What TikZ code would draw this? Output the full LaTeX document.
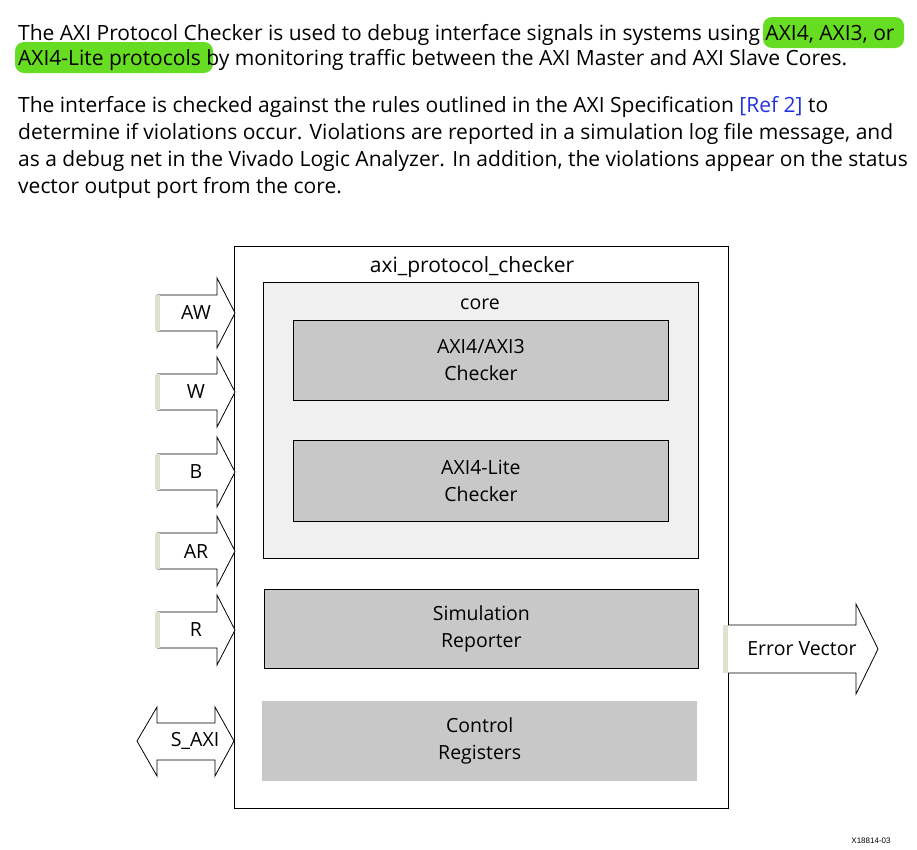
\documentclass[tikz,border=0pt]{standalone}
\usepackage{fontspec}
\setmainfont{Open Sans}
\newfontfamily\tagfont{Liberation Sans}
\definecolor{hl}{HTML}{66DD22}
\definecolor{refb}{HTML}{2233DD}
\definecolor{boxg}{HTML}{C8C8C8}
\definecolor{coreg}{HTML}{F0F0F0}
\definecolor{tabc}{HTML}{E0E0D0}
\begin{document}
\begin{tikzpicture}[x=1pt,y=-1pt,
  para/.style={anchor=base west,inner sep=0,font=\fontsize{21}{22}\selectfont},
  lbl/.style={font=\fontsize{19.5}{27}\selectfont,align=center,inner sep=0},
  blk/.style={draw=black,fill=boxg,line width=0.8pt},
  arr/.style={draw=black,fill=white,line width=0.8pt}]
\useasboundingbox (0,0) rectangle (917,849);
% highlights
\fill[hl,rounded corners=9pt] (763,17) rectangle (904,48);
\fill[hl,rounded corners=9pt] (15,42) rectangle (213,73);
\node[para] (t1) at (18,40) {The AXI Protocol Checker is used to debug interface signals in systems using AXI4, AXI3, or};
\node[para] (t2) at (18,65) {AXI4-Lite protocols by monitoring traffic between the AXI Master and AXI Slave Cores.};
\node[para] (t3) at (18,112) {The interface is checked against the rules outlined in the AXI Specification \textcolor{refb}{[Ref 2]} to};
\node[para] (t4) at (18,139) {determine if violations occur. Violations are reported in a simulation log file message, and};
\node[para] (t5) at (18,166) {as a debug net in the Vivado Logic Analyzer. In addition, the violations appear on the status};
\node[para] (t6) at (18,193) {vector output port from the core.};
% main boxes
\draw[line width=0.8pt] (234,246) rectangle (728,808);
\node[lbl,font=\fontsize{21}{27}\selectfont] (title) at (472,267) {axi\_protocol\_checker};
\draw[fill=coreg,line width=0.8pt] (263,282) rectangle (698,558);
\node[lbl] (core) at (480,304) {core};
\node[blk,minimum width=375,minimum height=80,anchor=north west,lbl] (c1) at (293,320) {AXI4/AXI3\\Checker};
\node[blk,minimum width=375,minimum height=81,anchor=north west,lbl] (c2) at (293,440) {AXI4-Lite\\Checker};
\node[blk,minimum width=434,minimum height=79,anchor=north west,lbl] (sim) at (264,589) {Simulation\\Reporter};
\node[fill=boxg,minimum width=435,minimum height=80,anchor=north west,lbl] (ctl) at (262,701) {Control\\Registers};
% left input arrows
\foreach \n/\y in {AW/313,W/392,B/472,AR/551,R/630}{
  \draw[arr] (157,\y-18) -- (217,\y-18) -- (217,\y-35) -- (235,\y) -- (217,\y+35) -- (217,\y+18) -- (157,\y+18);
  \fill[tabc] (155,\y-18) rectangle (160,\y+18);
  \node[lbl] (\n) at (196,\y) {\n};
}
% error vector
\draw[arr] (728,625) -- (856,625) -- (856,604) -- (878,649) -- (856,694) -- (856,673) -- (728,673);
\fill[tabc] (723,625) rectangle (728,673);
\node[lbl] (ev) at (802,649) {Error Vector};
% S_AXI
\draw[arr] (157,723) -- (215,723) -- (215,707) -- (234,741) -- (215,776) -- (215,760) -- (157,760) -- (157,776) -- (137,741) -- (157,707) -- cycle;
\node[lbl] (saxi) at (195,741) {S\_AXI};
\node[inner sep=0,font=\tagfont\fontsize{8}{9}\selectfont] (tag) at (871,841) {X18814-03};
\end{tikzpicture}
\end{document}
